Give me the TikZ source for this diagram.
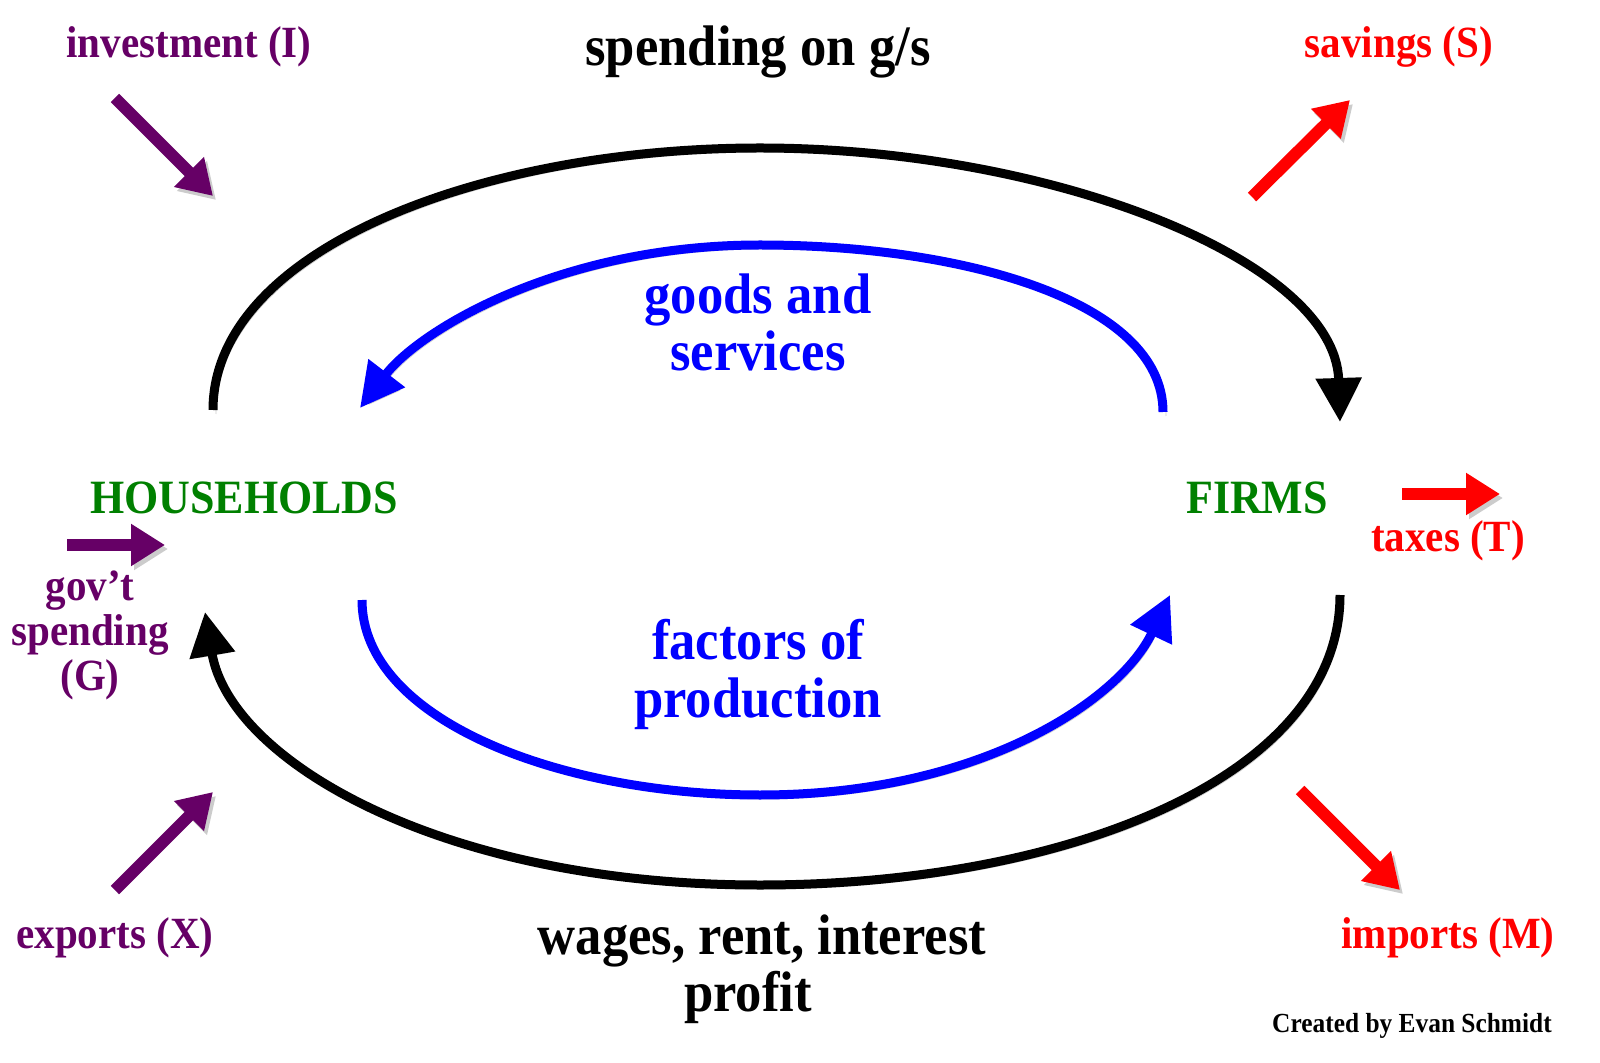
\documentclass[tikz,border=0pt]{standalone}
\usepackage{fontspec}
\setmainfont{Liberation Serif}[FakeStretch=0.92]
\usetikzlibrary{arrows.meta,positioning}

\definecolor{flowpurple}{RGB}{102,0,102}
\definecolor{flowgreen}{RGB}{0,128,0}

\tikzset{
  big/.style={font=\fontsize{28.6}{32}\selectfont\bfseries, anchor=base, inner sep=0pt},
  sector/.style={font=\fontsize{23.9}{28}\selectfont\bfseries, text=flowgreen, anchor=base, inner sep=0pt},
  side/.style={font=\fontsize{22.3}{26}\selectfont\bfseries, anchor=base, inner sep=0pt},
  drop/.style={preaction={draw=black!20, transform canvas={shift={(1.5pt,-2pt)}}}},
  cycleflow/.style={drop, line width=4.5pt, -{Triangle[length=22pt,width=22pt]}},
  sideflow/.style={drop, line width=6pt, -{Triangle[length=17pt,width=20pt]}}
}

\begin{document}
\begin{tikzpicture}[x=0.5pt, y=-0.5pt]
\useasboundingbox (0,0) rectangle (1600,1063);

% the two sectors
\node[sector] (households) at (244,514) {HOUSEHOLDS};
\node[sector] (firms) at (1257,514) {FIRMS};

% labels of the circular flow
\node[big] (spending) at (758,66) {spending on g/s};
\node[big, text=blue] (goods) at (758,314) {goods and};
\node[big, text=blue] (services) at (758,371) {services};
\node[big, text=blue] (factors) at (758,659) {factors of};
\node[big, text=blue] (production) at (758,717) {production};
\node[big] (wages) at (762,954) {wages, rent, interest};
\node[big] (profit) at (748,1011) {profit};

% injections
\node[side, text=flowpurple] (invest) at (189,58) {investment (I)};
\node[side, text=flowpurple] (gov1) at (90,600) {gov't};
\node[side, text=flowpurple] (gov2) at (90,645) {spending};
\node[side, text=flowpurple] (gov3) at (90,690) {(G)};
\node[side, text=flowpurple] (exports) at (115,948) {exports (X)};

% leakages
\node[side, text=red] (savings) at (1399,58) {savings (S)};
\node[side, text=red] (taxes) at (1448,552) {taxes (T)};
\node[side, text=red] (imports) at (1448,948) {imports (M)};

\node[font=\fontsize{13.8}{16}\selectfont\bfseries, anchor=base, inner sep=0pt] (credit) at (1412,1032) {Created by Evan Schmidt};

% ends of the big arcs
\coordinate (hh top) at (213,410);
\coordinate (firm top) at (1340,422);
\coordinate (firm inner) at (1163,412);
\coordinate (hh inner) at (360,408);
\coordinate (hh low) at (362,600);
\coordinate (firm low) at (1170,595);
\coordinate (firm bottom) at (1340,595);
\coordinate (hh bottom) at (205,612);

% circular flow
\draw[cycleflow] (hh top) .. controls (213,250) and (480,148) .. (760,148)
  .. controls (1050,148) and (1335,260) .. (firm top);
\draw[cycleflow, blue] (firm inner) .. controls (1163,300) and (960,245) .. (760,245)
  .. controls (560,245) and (420,330) .. (hh inner);
\draw[cycleflow, blue] (hh low) .. controls (362,720) and (560,795) .. (760,795)
  .. controls (980,795) and (1120,700) .. (firm low);
\draw[cycleflow] (firm bottom) .. controls (1340,780) and (1060,885) .. (760,885)
  .. controls (440,885) and (230,760) .. (hh bottom);

% ends of the small arrows
\coordinate (inv a) at (115,98);   \coordinate (inv b) at (213,196);
\coordinate (gov a) at (67,545);   \coordinate (gov b) at (165,545);
\coordinate (exp a) at (115,890);  \coordinate (exp b) at (213,792);
\coordinate (sav a) at (1252,197); \coordinate (sav b) at (1350,100);
\coordinate (tax a) at (1402,494); \coordinate (tax b) at (1500,494);
\coordinate (imp a) at (1300,790); \coordinate (imp b) at (1400,890);

\draw[sideflow, flowpurple] (inv a) -- (inv b);
\draw[sideflow, flowpurple] (gov a) -- (gov b);
\draw[sideflow, flowpurple] (exp a) -- (exp b);
\draw[sideflow, red] (sav a) -- (sav b);
\draw[sideflow, red] (tax a) -- (tax b);
\draw[sideflow, red] (imp a) -- (imp b);
\end{tikzpicture}
\end{document}
